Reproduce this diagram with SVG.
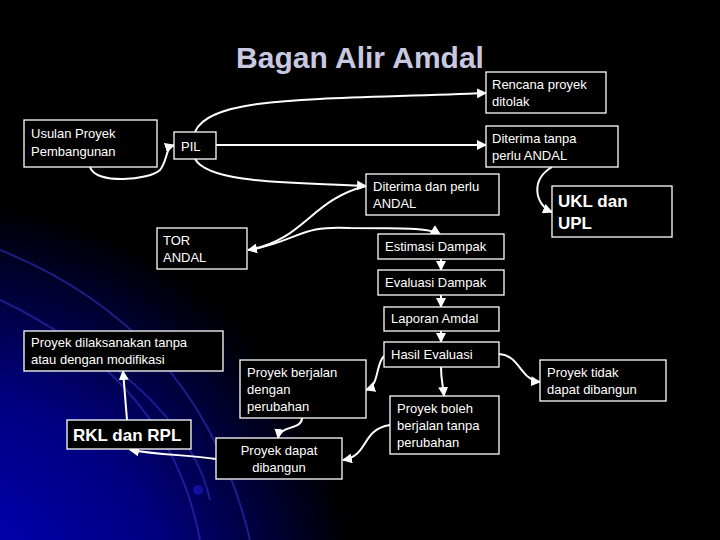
<svg xmlns="http://www.w3.org/2000/svg" width="720" height="540" viewBox="0 0 720 540">
<defs>
<radialGradient id="bg" cx="-60" cy="620" r="420" gradientUnits="userSpaceOnUse">
<stop offset="0" stop-color="#0000c8"/><stop offset="0.55" stop-color="#000080"/><stop offset="1" stop-color="#000000"/>
</radialGradient>
<marker id="ah" viewBox="0 0 10 10" refX="9" refY="5" markerWidth="5" markerHeight="5" orient="auto"><path d="M0,0 L10,5 L0,10 z" fill="#fff"/></marker>
</defs>
<style>
.b{fill:#000;stroke:#fff;stroke-width:1.3}
.t{font-family:"Liberation Sans",Arial,sans-serif;fill:#fff;font-size:13px}
.k{font-family:"Liberation Sans",Arial,sans-serif;fill:#fff;font-size:17px;font-weight:bold}
.c path{fill:none;stroke:#fff;stroke-width:2;marker-end:url(#ah)}
.d{fill:none;stroke:#3030c0;stroke-width:2;opacity:0.6}
</style>
<rect width="720" height="540" fill="#000"/>
<rect width="720" height="540" fill="url(#bg)"/>
<path class="d" d="M0,250 Q200,330 250,540"/>
<path class="d" d="M0,300 Q170,380 200,540"/>
<path class="d" d="M60,330 Q190,410 210,500"/>
<circle cx="198" cy="490" r="5" fill="#1010a0"/>
<text x="360" y="68" text-anchor="middle" font-family="Liberation Sans,Arial,sans-serif" font-size="30" font-weight="bold" fill="#c8c8e0">Bagan Alir Amdal</text>
<g class="c">
<path d="M90,167 C95,185 150,180 160,170 C168,160 165,148 174,145"/>
<path d="M195,132 C210,95 320,100 486,93"/>
<path d="M216,145 L486,145"/>
<path d="M195,159 C210,185 300,182 366,186"/>
<path d="M552,167 C530,180 535,205 552,212"/>
<path d="M366,186 C310,200 305,240 248,250"/>
<path d="M250,250 C300,240 300,225 350,228 C400,228 430,228 440,234"/>
<path d="M441,259 L441,270"/>
<path d="M441,295 L441,307"/>
<path d="M441,331 L441,342"/>
<path d="M384,356 C375,365 380,385 366,390"/>
<path d="M441,367 C441,380 443,385 444,396"/>
<path d="M499,354 C520,355 520,380 540,382"/>
<path d="M302,418 C302,430 280,425 278,438"/>
<path d="M390,425 C360,430 370,455 343,460"/>
<path d="M216,459 C190,455 160,455 130,450"/>
<path d="M127,420 L123,371"/>
</g>
<g id="usulan"><rect class="b" x="24" y="120" width="133" height="47"/><text class="t" x="31" y="138" font-size="14">Usulan Proyek</text><text class="t" x="31" y="156" font-size="14">Pembangunan</text></g>
<g id="pil"><rect class="b" x="174" y="132" width="42" height="27"/><text class="t" x="181" y="151" font-size="14">PIL</text></g>
<g id="rencana"><rect class="b" x="486" y="72" width="120" height="41"/><text class="t" x="492" y="89">Rencana proyek</text><text class="t" x="492" y="106">ditolak</text></g>
<g id="tanpa"><rect class="b" x="486" y="126" width="132" height="41"/><text class="t" x="492" y="143">Diterima tanpa</text><text class="t" x="492" y="160">perlu ANDAL</text></g>
<g id="dan"><rect class="b" x="366" y="174" width="133" height="41"/><text class="t" x="373" y="191">Diterima dan perlu</text><text class="t" x="373" y="208">ANDAL</text></g>
<g id="ukl"><rect class="b" x="552" y="186" width="120" height="51"/><text class="k" x="558" y="207">UKL dan</text><text class="k" x="558" y="229">UPL</text></g>
<g id="tor"><rect class="b" x="157" y="228" width="90" height="41"/><text class="t" x="163" y="245">TOR</text><text class="t" x="163" y="262">ANDAL</text></g>
<g id="estimasi"><rect class="b" x="378" y="234" width="126" height="25"/><text class="t" x="385" y="251">Estimasi Dampak</text></g>
<g id="evaluasi"><rect class="b" x="378" y="270" width="126" height="25"/><text class="t" x="385" y="287">Evaluasi Dampak</text></g>
<g id="laporan"><rect class="b" x="384" y="307" width="115" height="24"/><text class="t" x="391" y="323">Laporan Amdal</text></g>
<g id="hasil"><rect class="b" x="384" y="342" width="115" height="25"/><text class="t" x="391" y="359">Hasil Evaluasi</text></g>
<g id="dilaksanakan"><rect class="b" x="24" y="331" width="199" height="40"/><text class="t" x="31" y="347">Proyek dilaksanakan tanpa</text><text class="t" x="31" y="364">atau dengan modifikasi</text></g>
<g id="berjalan"><rect class="b" x="240" y="360" width="126" height="58"/><text class="t" x="247" y="377">Proyek berjalan</text><text class="t" x="247" y="394">dengan</text><text class="t" x="247" y="411">perubahan</text></g>
<g id="tidak"><rect class="b" x="540" y="360" width="126" height="41"/><text class="t" x="547" y="377">Proyek tidak</text><text class="t" x="547" y="394">dapat dibangun</text></g>
<g id="boleh"><rect class="b" x="390" y="396" width="109" height="58"/><text class="t" x="397" y="413">Proyek boleh</text><text class="t" x="397" y="430">berjalan tanpa</text><text class="t" x="397" y="447">perubahan</text></g>
<g id="rkl"><rect class="b" x="67" y="420" width="124" height="29"/><text class="k" x="73" y="441">RKL dan RPL</text></g>
<g id="dapat"><rect class="b" x="216" y="438" width="126" height="41"/><text class="t" x="279" y="455" text-anchor="middle">Proyek dapat</text><text class="t" x="279" y="472" text-anchor="middle">dibangun</text></g>
</svg>
